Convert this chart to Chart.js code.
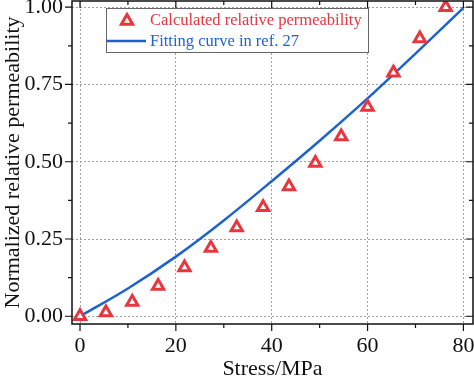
<!DOCTYPE html>
<html>
<head>
<meta charset="utf-8">
<script src="https://cdn.jsdelivr.net/npm/chart.js@4"></script>
<style>
  html, body { margin: 0; padding: 0; background: #fff; }
  #wrap { width: 474px; height: 377px; }
</style>
</head>
<body>
<div id="wrap"><canvas id="permChart" width="474" height="377"></canvas></div>
<script>
const stressPoints = [0, 5.4, 10.9, 16.3, 21.8, 27.3, 32.7, 38.2, 43.6, 49.1, 54.5, 60.0, 65.4, 70.9, 76.3];
const permValues = [0.0, 0.012, 0.046, 0.098, 0.158, 0.221, 0.287, 0.353, 0.42, 0.496, 0.582, 0.677, 0.788, 0.899, 1.0];
const fitStress = [0, 10, 20, 30, 40, 50, 60, 70, 80];
const fitValues = [0, 0.09, 0.193, 0.31, 0.437, 0.568, 0.705, 0.85, 0.998];
const xTicks = [0, 20, 40, 60, 80];
const xMinor = [10, 30, 50, 70];
const yTicks = [0, 0.25, 0.5, 0.75, 1.0];
const yMinor = [0.125, 0.375, 0.625, 0.875];

const RED = '#e8363f';
const BLUE = '#1c63cf';
const SERIF = '"Liberation Serif", "DejaVu Serif", serif';

const toXY = (xs, ys) => xs.map((x, i) => ({ x: x, y: ys[i] }));

// frame, tick marks and in-plot legend
const framePlugin = {
    id: 'frame',
    afterDraw(chart) {
        const { ctx, chartArea: a, scales } = chart;
        const xs = scales.x, ys = scales.y;
        ctx.save();
        ctx.strokeStyle = '#111';
        ctx.lineWidth = 1.5;
        ctx.strokeRect(a.left, a.top, a.right - a.left, a.bottom - a.top);

        ctx.lineWidth = 1.2;
        ctx.beginPath();
        xTicks.forEach(v => {
            const p = xs.getPixelForValue(v);
            ctx.moveTo(p, a.bottom); ctx.lineTo(p, a.bottom + 7);
            ctx.moveTo(p, a.top); ctx.lineTo(p, a.top + 7);
        });
        xMinor.forEach(v => {
            const p = xs.getPixelForValue(v);
            ctx.moveTo(p, a.bottom); ctx.lineTo(p, a.bottom + 4);
            ctx.moveTo(p, a.top); ctx.lineTo(p, a.top + 4);
        });
        yTicks.forEach(v => {
            const p = ys.getPixelForValue(v);
            ctx.moveTo(a.left, p); ctx.lineTo(a.left - 7, p);
            ctx.moveTo(a.right, p); ctx.lineTo(a.right - 7, p);
        });
        yMinor.forEach(v => {
            const p = ys.getPixelForValue(v);
            ctx.moveTo(a.left, p); ctx.lineTo(a.left - 4, p);
            ctx.moveTo(a.right, p); ctx.lineTo(a.right - 4, p);
        });
        ctx.stroke();

        // legend box
        const lx = 106, ly = 8, lw = 262, lh = 44;
        ctx.fillStyle = '#fff';
        ctx.fillRect(lx, ly, lw, lh);
        ctx.strokeStyle = '#666';
        ctx.lineWidth = 1;
        ctx.strokeRect(lx + 0.5, ly + 0.5, lw, lh);

        ctx.strokeStyle = RED;
        ctx.fillStyle = '#fff';
        ctx.lineWidth = 3;
        const tx = 127, ty = 21, r = 6.5;
        ctx.beginPath();
        ctx.moveTo(tx, ty - r);
        ctx.lineTo(tx + r * 0.866, ty + r * 0.5);
        ctx.lineTo(tx - r * 0.866, ty + r * 0.5);
        ctx.closePath();
        ctx.fill();
        ctx.stroke();

        ctx.strokeStyle = BLUE;
        ctx.lineWidth = 2.5;
        ctx.beginPath();
        ctx.moveTo(107, 41);
        ctx.lineTo(146, 41);
        ctx.stroke();

        ctx.font = '16.5px ' + SERIF;
        ctx.textBaseline = 'middle';
        ctx.textAlign = 'left';
        ctx.fillStyle = RED;
        ctx.fillText('Calculated relative permeability', 150, 21);
        ctx.fillStyle = BLUE;
        ctx.fillText('Fitting curve in ref. 27', 150, 42);
        ctx.restore();
    }
};

const ctx = document.getElementById('permChart').getContext('2d');
new Chart(ctx, {
    type: 'scatter',
    data: {
        datasets: [
            {
                label: 'Fitting curve in ref. 27',
                data: toXY(fitStress, fitValues),
                showLine: true,
                borderColor: BLUE,
                borderWidth: 2.5,
                pointRadius: 0,
                tension: 0.4,
                cubicInterpolationMode: 'monotone',
                order: 2
            },
            {
                label: 'Calculated relative permeability',
                data: toXY(stressPoints, permValues),
                pointStyle: 'triangle',
                pointRadius: 6.5,
                borderWidth: 3,
                borderColor: RED,
                backgroundColor: '#fff',
                order: 1
            }
        ]
    },
    options: {
        responsive: false,
        animation: false,
        devicePixelRatio: 1,
        layout: { autoPadding: false, padding: { top: 1, right: 1, left: 0, bottom: 0 } },
        plugins: {
            legend: { display: false },
            tooltip: { enabled: false }
        },
        scales: {
            x: {
                type: 'linear',
                min: -1.67,
                max: 82,
                afterBuildTicks: s => { s.ticks = xTicks.map(v => ({ value: v })); },
                afterFit: s => {
                    s.height = 53;
                    s.paddingLeft = 0;
                    s.paddingRight = 0;
                },
                grid: { color: '#a0a0a0', lineWidth: 1, drawTicks: false },
                border: { display: false, dash: [2, 2] },
                ticks: {
                    padding: 9,
                    color: '#111',
                    font: { family: SERIF, size: 22 },
                    maxRotation: 0
                },
                title: {
                    display: true,
                    text: 'Stress/MPa',
                    color: '#111',
                    font: { family: SERIF, size: 22 },
                    padding: { top: 6, bottom: -5 }
                }
            },
            y: {
                min: -0.025,
                max: 1.02,
                afterBuildTicks: s => { s.ticks = yTicks.map(v => ({ value: v })); },
                afterFit: s => {
                    s.width = 72;
                    s.paddingTop = 0;
                    s.paddingBottom = 0;
                },
                grid: { color: '#a0a0a0', lineWidth: 1, drawTicks: false },
                border: { display: false, dash: [2, 2] },
                ticks: {
                    padding: 9,
                    color: '#111',
                    font: { family: SERIF, size: 22 },
                    callback: v => v.toFixed(2)
                },
                title: {
                    display: true,
                    text: 'Normalized relative permeability',
                    color: '#111',
                    font: { family: SERIF, size: 22 },
                    padding: { top: 0, bottom: 0 }
                }
            }
        }
    },
    plugins: [framePlugin]
});
</script>
</body>
</html>
